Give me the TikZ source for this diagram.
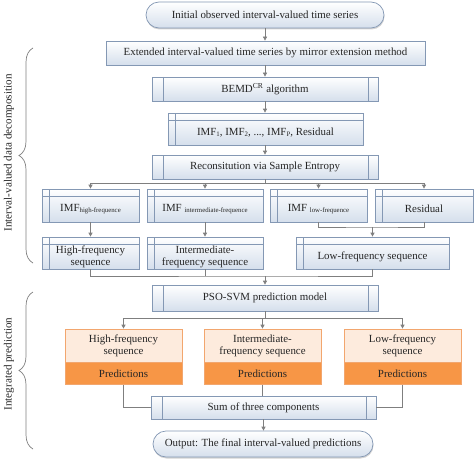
\documentclass[tikz,border=0pt]{standalone}
\usepackage{fontspec}
\setmainfont{Liberation Serif}
\usetikzlibrary{arrows.meta,decorations.pathreplacing,shadows,calc}
\definecolor{bfill}{HTML}{D5DFEC}
\definecolor{bline}{HTML}{8498B4}
\definecolor{cline}{HTML}{7F7F7F}
\definecolor{olight}{HTML}{FDEBDD}
\definecolor{odark}{HTML}{F79646}
\definecolor{oline}{HTML}{F2A66E}
\definecolor{tcol}{HTML}{262626}
\newcommand{\lsub}[1]{\raisebox{-1.3pt}{\fontsize{6.8}{7}\selectfont #1}}
\begin{document}
\begin{tikzpicture}[x=1pt,y=-1pt,
  font=\fontsize{10.9}{11.8}\selectfont,
  box/.style={draw=bline, line width=0.7pt, top color=white, bottom color=bfill, inner sep=1pt, align=center, text=tcol},
  roundbox/.style={box, rounded corners=13pt, drop shadow={opacity=0.35, shadow xshift=0.5pt, shadow yshift=-1.5pt}},
  proc/.style={box, path picture={\draw[bline, line width=0.7pt]
      ([xshift=11pt]path picture bounding box.north west) -- ([xshift=11pt]path picture bounding box.south west)
      ([xshift=-10pt]path picture bounding box.north east) -- ([xshift=-10pt]path picture bounding box.south east);}},
  store/.style={box, path picture={\draw[bline, line width=0.7pt]
      ([xshift=7pt]path picture bounding box.north west) -- ([xshift=7pt]path picture bounding box.south west)
      ([yshift=-7pt]path picture bounding box.north west) -- ([yshift=-7pt]path picture bounding box.north east);}},
  txt/.style={align=center, inner sep=0pt, text=tcol},
  olightbox/.style={draw=oline, line width=0.7pt, fill=olight, align=center, text=tcol, inner sep=1pt, minimum width=117, minimum height=33},
  odarkbox/.style={draw=oline, line width=0.7pt, fill=odark, align=center, text=black!85, inner sep=1pt, minimum width=117, minimum height=22},
  conn/.style={draw=cline, line width=0.7pt},
  arr/.style={conn, -{Triangle[length=4pt,width=4pt]}},
  bracestyle/.style={draw=cline, line width=0.7pt, decorate, decoration={brace, amplitude=14pt}},
  sidelabel/.style={rotate=90, txt, font=\fontsize{11.1}{12}\selectfont},
]
\useasboundingbox (0,0) rectangle (474,460);

% top nodes
\node[roundbox, minimum width=238, minimum height=26] (init) at (265,15) {Initial observed interval-valued time series};
\node[box, minimum width=319, minimum height=24] (ext) at (265.5,53) {Extended interval-valued time series by mirror extension method};
\node[proc, minimum width=226, minimum height=24] (bemd) at (265,89) {BEMD\textsuperscript{CR} algorithm};
\node[store, minimum width=195, minimum height=32] (imfs) at (265.5,129) {};
\node[txt] (imfsT) at ([yshift=-3.5pt]imfs.center) {IMF\lsub{1}, IMF\lsub{2}, ..., IMF\lsub{P}, Residual};
\node[proc, minimum width=226, minimum height=24] (recon) at (265,167) {Reconsitution via Sample Entropy};

% IMF row
\node[store, minimum width=97, minimum height=33] (imfh) at (90.5,205.5) {};
\node[txt] (imfhT) at ([yshift=-3.5pt]imfh.center) {IMF\lsub{high-frequence}};
\node[store, minimum width=116, minimum height=33] (imfi) at (205,205.5) {};
\node[txt] (imfiT) at ([yshift=-3.5pt]imfi.center) {IMF \lsub{intermediate-frequence}};
\node[store, minimum width=97, minimum height=33] (imfl) at (318.5,205.5) {};
\node[txt] (imflT) at ([yshift=-3.5pt]imfl.center) {IMF \lsub{low-frequence}};
\node[store, minimum width=98, minimum height=33] (res) at (424,205.5) {};
\node[txt] (resT) at ([yshift=-3.5pt]res.center) {Residual};

% sequence row
\node[store, minimum width=97, minimum height=32] (hseq) at (90.5,253) {};
\node[txt] (hseqT) at ([yshift=-3.5pt]hseq.center) {High-frequency\\sequence};
\node[store, minimum width=116, minimum height=32] (iseq) at (205,253) {};
\node[txt] (iseqT) at ([yshift=-3.5pt]iseq.center) {Intermediate-\\frequency sequence};
\node[store, minimum width=153, minimum height=32] (lseq) at (372.5,253) {};
\node[txt] (lseqT) at ([yshift=-3.5pt]lseq.center) {Low-frequency sequence};

\node[proc, minimum width=226, minimum height=26] (pso) at (265,298) {PSO-SVM prediction model};

% orange boxes
\node[olightbox] (ohl) at (123.5,345.5) {High-frequency\\sequence};
\node[odarkbox, anchor=north] (ohd) at (ohl.south) {Predictions};
\node[olightbox] (oil) at (262.5,345.5) {Intermediate-\\frequency sequence};
\node[odarkbox, anchor=north] (oid) at (oil.south) {Predictions};
\node[olightbox] (oll) at (402.5,345.5) {Low-frequency\\sequence};
\node[odarkbox, anchor=north] (old) at (oll.south) {Predictions};

\node[proc, minimum width=225, minimum height=23] (sum) at (263.5,407.5) {Sum of three components};
\node[roundbox, minimum width=220, minimum height=26] (out) at (263,444) {Output: The final interval-valued predictions};

% connectors
\draw[arr] (init.south) -- (init.south |- ext.north);
\draw[arr] (ext.south -| bemd.north) -- (bemd.north);
\draw[arr] (bemd.south) -- (bemd.south |- imfs.north);
\draw[arr] (imfs.south -| recon.north) -- (recon.north);

\coordinate (b1) at (265,183);
\draw[conn] (recon.south) -- (b1);
\draw[conn] (imfh.north |- b1) -- (res.north |- b1);
\foreach \n in {imfh,imfi,imfl,res} \draw[arr] (\n.north |- b1) -- (\n.north);

\draw[arr] (imfh.south) -- (hseq.north);
\draw[arr] (imfi.south) -- (iseq.north);
\coordinate (m1) at (372.5,227);
\draw[conn] (imfl.south) |- (m1) -| (res.south);
\draw[arr] (m1) -- (lseq.north);

\coordinate (m2) at (265,276);
\draw[conn] (hseq.south) |- (m2) -| (lseq.south);
\draw[conn] (iseq.south) -- (iseq.south |- m2);
\draw[arr] (m2) -- (pso.north);

\coordinate (b2) at (265,318);
\draw[conn] (pso.south) -- (b2);
\draw[conn] (ohl.north |- b2) -- (oll.north |- b2);
\foreach \n in {ohl,oil,oll} \draw[arr] (\n.north |- b2) -- (\n.north);

\draw[conn] (ohd.south) |- (sum.west);
\draw[conn] (old.south) |- (sum.east);
\draw[conn] (oid.south) -- (oid.south |- sum.north);
\draw[arr] (sum.south) -- (sum.south |- out.north);

% braces and labels
\draw[bracestyle] (33,263) -- (33,48);
\node[sidelabel] (lab1) at (9,153) {Interval-valued data decomposition};
\draw[bracestyle] (33,449) -- (33,292);
\node[sidelabel] (lab2) at (9,364) {Integrated prediction};
\end{tikzpicture}
\end{document}
